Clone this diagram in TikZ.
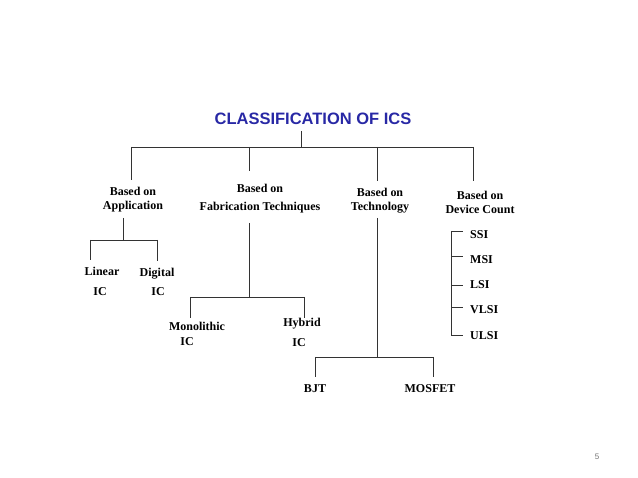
\documentclass[tikz,border=0pt]{standalone}
\usepackage{fontspec}
\setmainfont{Liberation Serif}
\newfontfamily\titlefont{Liberation Sans}
\definecolor{ttl}{RGB}{40,40,165}
\begin{document}
\begin{tikzpicture}[x=1pt,y=-1pt,
  lbl/.style={font=\fontsize{12}{14}\selectfont\bfseries, inner sep=0pt, align=center},
  ln/.style={line width=0.8pt, black!80}]
\useasboundingbox (0,0) rectangle (638,478);
\node[font=\titlefont\fontsize{16.5}{18}\selectfont\bfseries, text=ttl] (title) at (313,119) {CLASSIFICATION OF ICS};
\coordinate (t0) at (301,131);
\draw[ln] (t0) -- (301,147) (131,147) -- (473,147);
\draw[ln] (131,147) -- (131,180) (249,147) -- (249,171) (377,147) -- (377,181) (473,147) -- (473,181);
\node[lbl] (app) at (133,200) {Based on\\Application};
\node[lbl] (fab) at (260,199) {Based on\\[4pt]Fabrication Techniques};
\node[lbl] (tech) at (380,201) {Based on\\Technology};
\node[lbl] (dev) at (480,202) {Based on\\Device Count};
% application
\draw[ln] (123,218) -- (123,240) (90,240) -- (157,240) (90,240) -- (90,260) (157,240) -- (157,261);
\node[lbl] (lin) at (102,271) {Linear};
\node[lbl] (linic) at (100,292) {IC};
\node[lbl] (dig) at (157,274) {Digital};
\node[lbl] (digic) at (158,292) {IC};
% fabrication
\draw[ln] (249,223) -- (249,297) (190,297) -- (304,297) (190,297) -- (190,318) (304,297) -- (304,318);
\node[lbl] (mono) at (197,326) {Monolithic};
\node[lbl] (monoic) at (187,342) {IC};
\node[lbl] (hyb) at (302,324) {Hybrid};
\node[lbl] (hybic) at (299,343) {IC};
% technology
\draw[ln] (377,218) -- (377,357) (315,357) -- (433,357) (315,357) -- (315,377) (433,357) -- (433,377);
\node[lbl] (bjt) at (315,389) {BJT};
\node[lbl] (mos) at (430,389) {MOSFET};
% device count
\draw[ln] (451,231) -- (451,335);
\foreach \y/\t in {231/SSI,256/MSI,285/LSI,307/VLSI,335/ULSI}{
  \draw[ln] (451,\y) -- (463,\y);
}
\node[lbl,anchor=west] (ssi) at (470,235) {SSI};
\node[lbl,anchor=west] (msi) at (470,260) {MSI};
\node[lbl,anchor=west] (lsi) at (470,285) {LSI};
\node[lbl,anchor=west] (vlsi) at (470,310) {VLSI};
\node[lbl,anchor=west] (ulsi) at (470,336) {ULSI};
\node[font=\titlefont\fontsize{8}{9}\selectfont, text=black!55] (pg) at (597,457) {5};
\end{tikzpicture}
\end{document}
